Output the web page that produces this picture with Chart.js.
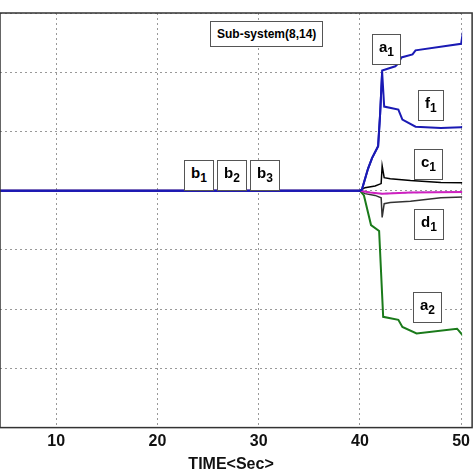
<!DOCTYPE html>
<html><head><meta charset="utf-8">
<script src="https://cdn.jsdelivr.net/npm/chart.js@4"></script>
<style>
body{margin:0;background:#fff;}
#wrap{position:relative;width:474px;height:474px;}
.lb{position:absolute;border:1px solid #555;background:#fff;font:bold 15px Arial,"Liberation Sans",sans-serif;padding:3px 6px;line-height:18px;}
.lb sub{font-size:12px;}
</style></head><body>
<div id="wrap"><canvas id="c" width="474" height="474"></canvas>
<div class="lb" style="left:210px;top:21px;font-size:12px;padding:3px 6px;">Sub-system(8,14)</div>
<div class="lb" style="left:372px;top:34px;">a<sub>1</sub></div>
<div class="lb" style="left:418px;top:90px;">f<sub>1</sub></div>
<div class="lb" style="left:414px;top:149px;">c<sub>1</sub></div>
<div class="lb" style="left:414px;top:209px;">d<sub>1</sub></div>
<div class="lb" style="left:413px;top:292px;">a<sub>2</sub></div>
<div class="lb" style="left:184px;top:160px;">b<sub>1</sub></div>
<div class="lb" style="left:217px;top:160px;">b<sub>2</sub></div>
<div class="lb" style="left:250px;top:160px;">b<sub>3</sub></div>
</div>
<script>
const xTicks = [10, 20, 30, 40, 50];

const tA1 = [4, 40, 40.2, 40.8, 41.2, 41.8, 42.0, 42.2, 43.5, 43.8, 44.1, 45.2, 45.5, 50.0, 50.2, 51];
const a1  = [0, 0, 0.02, 0.37, 0.55, 0.75, 1.3, 2.03, 2.1, 2.15, 2.25, 2.3, 2.37, 2.48, 2.7, 2.72];

const tF1 = [4, 40, 40.2, 40.8, 41.2, 41.8, 42.0, 42.2, 42.4, 43.8, 44.2, 45.5, 48, 50.0, 51];
const f1  = [0, 0, 0.02, 0.37, 0.55, 0.75, 1.3, 2.0, 1.42, 1.37, 1.2, 1.08, 1.06, 1.07, 1.15];

const tA2 = [4, 40, 40.4, 41.1, 41.9, 42.3, 43.8, 44.2, 45.6, 49.6, 50.3, 51];
const a2  = [0, 0, -0.08, -0.58, -0.68, -2.13, -2.18, -2.3, -2.41, -2.33, -2.47, -2.45];

const tC1 = [4, 40, 40.5, 41.5, 42.1, 42.2, 42.4, 43, 45, 48, 51];
const c1  = [0, 0, 0.05, 0.08, 0.12, 0.42, 0.22, 0.2, 0.17, 0.14, 0.13];

const tD1 = [4, 40, 40.5, 41.5, 42.1, 42.2, 42.4, 43, 45, 48, 51];
const d1  = [0, 0, -0.05, -0.08, -0.12, -0.45, -0.22, -0.2, -0.18, -0.12, -0.1];

const tM = [4, 40, 41, 42.2, 45, 51];
const m  = [0, 0, -0.03, -0.05, -0.03, -0.02];

function pts(t, v){ return t.map((x, i) => ({x: x, y: v[i]})); }

const frame = {
  id: 'frame',
  afterDraw(ch){
    const a = ch.chartArea, g = ch.ctx;
    g.save(); g.strokeStyle = '#333'; g.lineWidth = 1.5;
    g.strokeRect(a.left, a.top, a.right - a.left + 10, a.bottom - a.top);
    g.restore();
  }
};

const ds = (label, t, v, color, w, dash) => ({label, data: pts(t, v), borderColor: color, borderWidth: w, borderDash: dash || [], pointRadius: 0, tension: 0, fill: false});

new Chart(document.getElementById('c'), {
  type: 'line',
  data: {datasets: [
    ds('a1', tA1, a1, '#1a1ab4', 2),
    ds('f1', tF1, f1, '#1a1ab4', 2),
    ds('m', tM, m, '#d020c0', 2),
    ds('cyan', tM, m, '#4fd0e0', 1.5, [3, 3]),
    ds('a2', tA2, a2, '#1a7a1a', 2),
    ds('c1', tC1, c1, '#000', 1.5),
    ds('d1', tD1, d1, '#333', 1.5)
  ]},
  options: {
    responsive: false, animation: false,
    layout: {padding: {top: 13, left: 0, right: 0, bottom: 0}},
    plugins: {legend: {display: false}, tooltip: {enabled: false}},
    scales: {
      x: {
        type: 'linear', min: 4.44, max: 50.1,
        afterBuildTicks: ax => { ax.ticks = xTicks.map(v => ({value: v})); },
        grid: {color: '#999', drawTicks: false},
        border: {display: false, dash: [2, 3]},
        ticks: {color: '#111', font: {size: 16, weight: 'bold', family: 'Arial'}, padding: 4, maxRotation: 0},
        title: {display: true, text: 'TIME<Sec>', color: '#111', font: {size: 16, weight: 'bold', family: 'Arial'}, padding: {top: 0, bottom: 0}}
      },
      y: {
        min: -4, max: 3,
        ticks: {display: false, stepSize: 1},
        grid: {color: '#999', drawTicks: false},
        border: {display: false, dash: [2, 3]}
      }
    }
  },
  plugins: [frame]
});
</script>
</body></html>
